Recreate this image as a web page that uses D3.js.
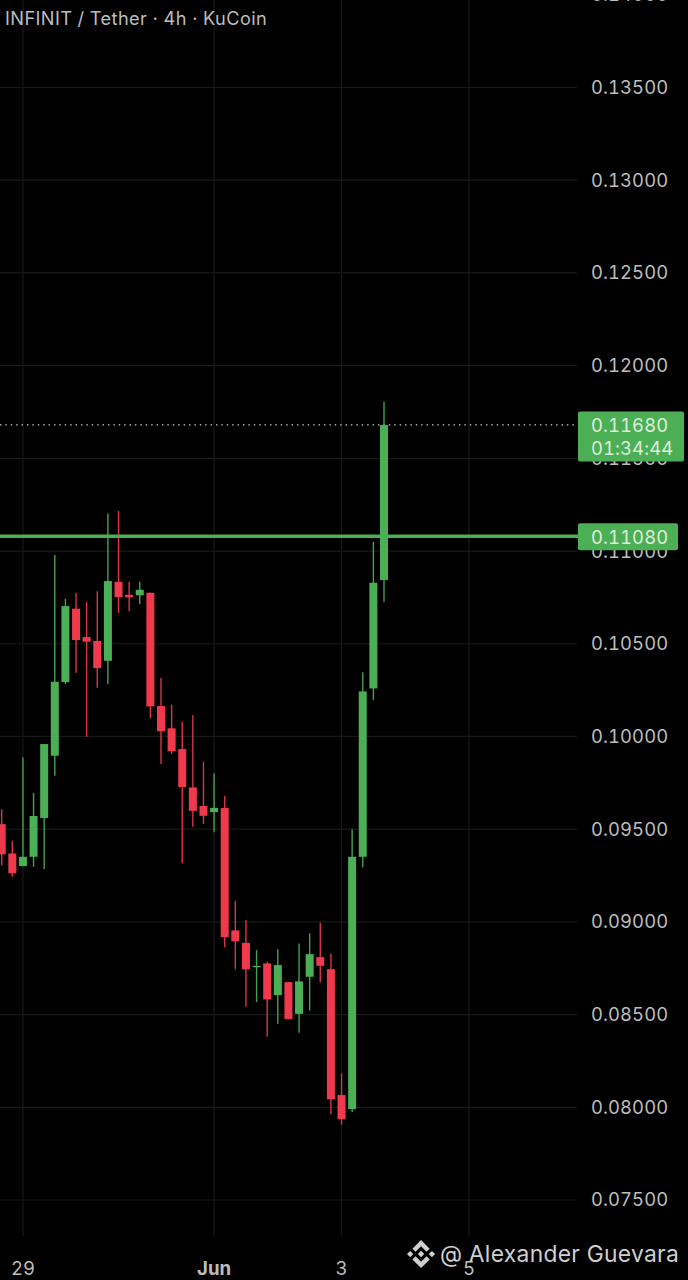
<!DOCTYPE html>
<html><head><meta charset="utf-8">
<script src="https://cdn.jsdelivr.net/npm/d3@7"></script>
<style>html,body{margin:0;padding:0;background:#000}svg{display:block}text{font-family:Inter,Roboto,sans-serif;font-variant-numeric:tabular-nums}</style>
</head><body><svg id="c" width="688" height="1280"></svg>
<script>
const title = "INFINIT / Tether · 4h · KuCoin";
const watermark = "@ Alexander Guevara";
const priceTicks = [0.075,0.08,0.085,0.09,0.095,0.10,0.105,0.11,0.115,0.12,0.125,0.13,0.135,0.14];
const timeTicks = [2,20,32,44];
const timeLabels = ["29","Jun","3","5"];
const lastPrice = 0.1168, lastCountdown = "01:34:44", levelPrice = 0.1108;
const opens  = [.09527,.09369,.09301,.09351,.09560,.09896,.10293,.10689,.10536,.10515,.10408,.10834,.10764,.10761,.10775,.10164,.10044,.09932,.09725,.09625,.09592,.09614,.08954,.08887,.08758,.08776,.08605,.08675,.08504,.08704,.08810,.08745,.08066,.07990,.09351,.10259,.10844];
const highs  = [.09607,.09437,.09887,.09696,.09959,.10978,.10743,.10775,.10725,.10783,.11203,.11216,.10834,.10834,.10775,.10315,.10171,.10079,.10114,.09864,.09801,.09679,.09114,.09010,.08848,.08785,.08853,.08675,.08884,.08938,.08995,.08830,.08183,.09499,.10346,.11050,.11805];
const lows   = [.09306,.09243,.09300,.09297,.09285,.09788,.10283,.10344,.09998,.10263,.10283,.10667,.10675,.10714,.10099,.09851,.09905,.09316,.09513,.09527,.09484,.08863,.08744,.08542,.08567,.08380,.08450,.08476,.08402,.08521,.08675,.07963,.07906,.07974,.09294,.10196,.10727];
const closes = [.09364,.09262,.09351,.09571,.09959,.10295,.10703,.10520,.10511,.10369,.10838,.10752,.10750,.10791,.10162,.10028,.09920,.09727,.09599,.09572,.09615,.08918,.08895,.08744,.08763,.08582,.08767,.08476,.08679,.08826,.08763,.08043,.07936,.09351,.10243,.10829,.11680];

const W=688,H=1280,plotR=577;
const GREEN="#4caf55",RED="#ee3a4c",GRID="#191919",TXT="#bdbdbd";
const fmt=d3.format(".5f");
const svg=d3.select("#c");
svg.append("rect").attr("width",W).attr("height",H).attr("fill","#000");
const x=d3.scaleLinear().domain([0,36]).range([1.7,384]);
const y=d3.scaleLinear().domain([0.075,0.135]).range([1200,87.5]);

// grid + axes
const gy=svg.append("g").attr("transform",`translate(${plotR},0)`)
  .call(d3.axisLeft(y).offset(0).tickValues(priceTicks).tickSize(plotR).tickFormat(""));
gy.select(".domain").remove();
gy.selectAll("line").attr("stroke",GRID).attr("stroke-width",1.2);
const gx=svg.append("g").attr("transform","translate(0,1236)")
  .call(d3.axisTop(x).offset(0).tickValues(timeTicks).tickSize(1236).tickFormat(""));
gx.select(".domain").remove();
gx.selectAll("line").attr("stroke",GRID).attr("stroke-width",1.2);

const ay=svg.append("g").attr("transform","translate(591,0.6)")
  .call(d3.axisRight(y).offset(0).tickValues(priceTicks).tickSize(0).tickPadding(0).tickFormat(fmt));
ay.select(".domain").remove();
ay.selectAll("text").attr("fill",TXT).attr("font-size",18.4).attr("letter-spacing",0.1).style("font-family","Inter,Roboto,sans-serif");

const ax=svg.append("g").attr("transform","translate(0,1275)")
  .call(d3.axisBottom(x).offset(0).tickValues(timeTicks).tickSize(0).tickPadding(0).tickFormat((d,i)=>timeLabels[i]));
ax.select(".domain").remove();
ax.selectAll("text").attr("fill",TXT).attr("font-size",18.6).attr("dy",0)
  .style("font-family","Inter,Roboto,sans-serif").attr("font-weight",(d,i)=>timeLabels[i]==="Jun"?700:400);

// dotted last price line
svg.append("line").attr("x1",0).attr("x2",plotR).attr("y1",y(lastPrice)).attr("y2",y(lastPrice))
  .attr("stroke","#d8d8d8").attr("stroke-width",1.3).attr("stroke-dasharray","1.4 4");

// candles
const candles=d3.range(opens.length).map(i=>({i,o:opens[i],h:highs[i],l:lows[i],c:closes[i]}));
const g=svg.append("g").selectAll("g").data(candles).join("g");
const col=d=>d.c>=d.o?GREEN:RED;
g.append("line").attr("x1",d=>x(d.i)).attr("x2",d=>x(d.i)).attr("y1",d=>y(d.h)).attr("y2",d=>y(d.l))
  .attr("stroke",col).attr("stroke-width",1.4).attr("stroke-opacity",.92);
g.append("rect").attr("x",d=>x(d.i)-4).attr("width",8)
  .attr("y",d=>y(Math.max(d.o,d.c)))
  .attr("height",d=>Math.max(1.4,Math.abs(y(d.o)-y(d.c))))
  .attr("fill",col);

// horizontal level
svg.append("line").attr("x1",0).attr("x2",plotR+2).attr("y1",y(levelPrice)).attr("y2",y(levelPrice))
  .attr("stroke",GREEN).attr("stroke-width",3.4);

// badges
const yl=y(lastPrice), yv=y(levelPrice);
svg.append("rect").attr("x",578).attr("y",yl-13.5).attr("width",106).attr("height",50).attr("rx",2).attr("fill",GREEN);
svg.append("rect").attr("x",578).attr("y",yv-13).attr("width",100).attr("height",27).attr("rx",2).attr("fill",GREEN);
const badge=(t,yy)=>svg.append("text").attr("x",591).attr("y",yy).attr("dy","0.36em").attr("fill","#dcf0dc")
  .attr("font-size",18.4).attr("letter-spacing",0.1).text(t);
badge(fmt(lastPrice),yl);
badge(lastCountdown,yl+23);
badge(fmt(levelPrice),yv+1);

// header
svg.append("text").attr("x",5).attr("y",25).attr("fill",TXT).attr("font-size",18.2).attr("letter-spacing",0.4).text(title);

// watermark
svg.append("path").attr("transform","translate(407,1240) scale(0.222)").attr("fill","#cfcfcf")
  .attr("d","M38.73 53.2l24.59-24.58 24.6 24.6 14.3-14.31L63.32 0 24.42 38.9zM0 63.31l14.3-14.31 14.31 14.31-14.31 14.3zM38.73 73.41l24.59 24.59 24.6-24.6 14.31 14.29-38.9 38.91-38.91-38.88-.02-.02zM98.01 63.31l14.3-14.31 14.3 14.3-14.3 14.31zM77.83 63.3L63.32 48.78 52.59 59.51l-1.24 1.23-2.54 2.54 14.51 14.5 14.51-14.47z");
svg.append("text").attr("x",440).attr("y",1262).attr("fill","#cfcfcf").attr("font-size",22.8).attr("letter-spacing",0.32).text(watermark);
</script></body></html>
